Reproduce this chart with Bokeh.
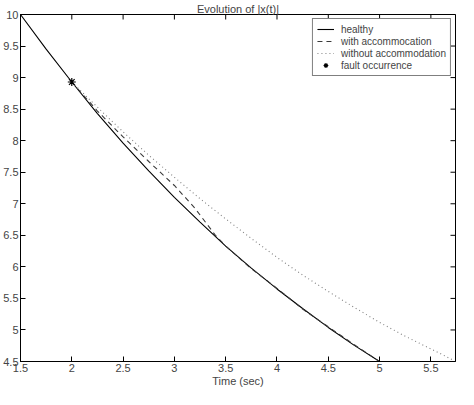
import math
from bokeh.plotting import figure
from bokeh.models import Range1d, FixedTicker, Legend, LegendItem
from bokeh.embed import file_html
from bokeh.resources import INLINE

# ---- data ----
t_healthy = [1.5, 1.75, 2.0, 2.25, 2.5, 2.75, 3.0, 3.25, 3.5, 3.75, 4.0, 4.25, 4.5, 4.75, 5.0]
x_healthy = [10.0, 9.45, 8.93, 8.43, 7.96, 7.52, 7.10, 6.71, 6.33, 5.98, 5.65, 5.34, 5.04, 4.76, 4.50]

t_accom = [2.0, 2.25, 2.5, 2.75, 3.0, 3.2, 3.4, 3.5, 3.75, 4.0, 4.25, 4.5, 4.75, 5.0]
x_accom = [8.93, 8.47, 8.06, 7.67, 7.29, 6.93, 6.50, 6.33, 5.97, 5.66, 5.33, 5.05, 4.77, 4.50]

t_noaccom = [2.0, 2.25, 2.5, 2.75, 3.0, 3.25, 3.5, 3.75, 4.0, 4.25, 4.5, 4.75, 5.0, 5.25, 5.5, 5.72]
x_noaccom = [8.93, 8.53, 8.14, 7.77, 7.42, 7.08, 6.76, 6.45, 6.15, 5.87, 5.61, 5.36, 5.12, 4.90, 4.70, 4.52]

t_fault = [2.0]
x_fault = [8.93]

x_ticks = [1.5, 2, 2.5, 3, 3.5, 4, 4.5, 5, 5.5]
y_ticks = [4.5, 5, 5.5, 6, 6.5, 7, 7.5, 8, 8.5, 9, 9.5, 10]

title_text = "Evolution of |x(t)|"
x_label = "Time (sec)"
labels = ["healthy", "with accommocation", "without accommodation", "fault occurrence"]

FONT = "Liberation Sans"

xr = Range1d(1.5, 5.74)
yr = Range1d(4.5, 10)
p = figure(width=458, height=389, x_range=xr, y_range=yr,
           output_backend="svg", toolbar_location=None,
           min_border_left=11, min_border_right=3, min_border_top=13, min_border_bottom=24)

p.title.text = title_text
p.title.align = "center"
p.title.text_font = FONT
p.title.text_font_size = "11px"
p.title.text_font_style = "normal"
p.title.standoff = 0
p.title.offset = 0

p.xgrid.visible = False
p.ygrid.visible = False
p.outline_line_color = "black"
p.outline_line_width = 1
p.background_fill_color = "white"
p.border_fill_color = "white"

for ax in (p.xaxis[0], p.yaxis[0]):
    ax.axis_line_color = "black"
    ax.major_tick_in = 5
    ax.major_tick_out = 0
    ax.minor_tick_line_color = None
    ax.major_label_text_font = FONT
    ax.major_label_text_font_size = "11px"
    ax.major_label_standoff = 2

p.xaxis.ticker = FixedTicker(ticks=x_ticks)
p.yaxis.ticker = FixedTicker(ticks=y_ticks)
p.xaxis.axis_label = x_label
p.xaxis.axis_label_text_font = FONT
p.xaxis.axis_label_text_font_size = "11px"
p.xaxis.axis_label_text_font_style = "normal"
p.xaxis.axis_label_standoff = 0

# mirrored tick marks on the top and right edges of the box (half of each dash is clipped)
p.scatter(x_ticks, [yr.end] * len(x_ticks), marker="dash", angle=math.pi / 2, size=10,
          line_color="black", line_width=1)
p.scatter([xr.end] * len(y_ticks), y_ticks, marker="dash", size=10,
          line_color="black", line_width=1)

r1 = p.line(t_healthy, x_healthy, line_color="black", line_width=1.1)
r2 = p.line(t_accom, x_accom, line_color="#3a3a3a", line_width=1.1, line_dash="5 4")
r3 = p.line(t_noaccom, x_noaccom, line_color="#808080", line_width=1.1, line_dash="1 3")
r4 = p.scatter(t_fault, x_fault, marker="asterisk", size=8, line_color="black", line_width=1.2)

legend = Legend(items=[LegendItem(label=labels[0], renderers=[r1]),
                       LegendItem(label=labels[1], renderers=[r2]),
                       LegendItem(label=labels[2], renderers=[r3]),
                       LegendItem(label=labels[3], renderers=[r4])],
                location="top_right")
legend.border_line_color = "black"
legend.border_line_width = 1
legend.background_fill_alpha = 1
legend.label_text_font = FONT
legend.label_text_font_size = "10px"
legend.label_height = 12
legend.glyph_height = 12
legend.glyph_width = 17
legend.spacing = 0
legend.padding = 4
legend.margin = 4
legend.label_standoff = 7
legend.label_text_line_height = 1.0
p.add_layout(legend)

open("out.html", "w").write(file_html(p, INLINE))
